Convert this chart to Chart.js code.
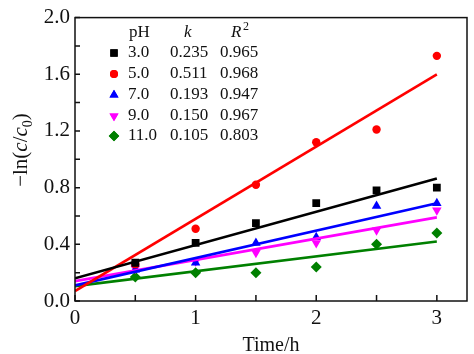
<!DOCTYPE html>
<html>
<head>
<meta charset="utf-8">
<script src="https://cdn.jsdelivr.net/npm/chart.js@4/dist/chart.umd.min.js"></script>
<style>
  html, body { margin: 0; padding: 0; background: #fff; }
  #wrap { width: 474px; height: 354px; }
</style>
</head>
<body>
<div id="wrap"><canvas id="kinChart" width="474" height="354"></canvas></div>
<script>
// Data
const times = [0.5, 1, 1.5, 2, 2.5, 3];
const phLabels = ['3.0', '5.0', '7.0', '9.0', '11.0'];
const kValues = ['0.235', '0.511', '0.193', '0.150', '0.105'];
const r2Values = ['0.965', '0.968', '0.947', '0.967', '0.803'];

const ph3 = [0.27, 0.41, 0.55, 0.69, 0.78, 0.80];
const ph5 = [0.26, 0.51, 0.82, 1.12, 1.21, 1.73];
const ph7 = [0.22, 0.27, 0.41, 0.45, 0.67, 0.69];
const ph9 = [0.23, 0.28, 0.34, 0.41, 0.50, 0.64];
const ph11 = [0.17, 0.20, 0.20, 0.24, 0.40, 0.48];

// fitted lines, value at t = 0 and t = 3
const fitX = [0, 3];
const fit3 = [0.16, 0.865];
const fit5 = [0.07, 1.60];
const fit7 = [0.11, 0.69];
const fit9 = [0.14, 0.59];
const fit11 = [0.105, 0.42];

const xTicks = [0, 0.5, 1, 1.5, 2, 2.5, 3];
const xTickLabels = ['0', '', '1', '', '2', '', '3'];
const yTicks = [0, 0.2, 0.4, 0.6, 0.8, 1.0, 1.2, 1.4, 1.6, 1.8, 2.0];
const yTickLabels = ['0.0', '', '0.4', '', '0.8', '', '1.2', '', '1.6', '', '2.0'];

const series = [
  { vals: ph3, fit: fit3, color: '#000000', style: 'rect', radius: 5.5, rot: 0 },
  { vals: ph5, fit: fit5, color: '#ff0000', style: 'circle', radius: 4.2, rot: 0 },
  { vals: ph7, fit: fit7, color: '#0000ff', style: 'triangle', radius: 5.5, rot: 0 },
  { vals: ph9, fit: fit9, color: '#ff00ff', style: 'triangle', radius: 5.5, rot: 180 },
  { vals: ph11, fit: fit11, color: '#008000', style: 'rectRot', radius: 5.5, rot: 0 }
];

const serif = '"Liberation Serif", "Times New Roman", serif';

function toPoints(xs, ys) {
  return xs.map((x, i) => ({ x: x, y: ys[i] }));
}

const datasets = [];
series.forEach(s => {
  datasets.push({
    type: 'line',
    data: toPoints(fitX, s.fit),
    borderColor: s.color,
    borderWidth: 2.6,
    pointRadius: 0,
    fill: false
  });
});
series.forEach(s => {
  datasets.push({
    type: 'scatter',
    data: toPoints(times, s.vals),
    backgroundColor: s.color,
    borderColor: s.color,
    borderWidth: 0,
    pointStyle: s.style,
    pointRadius: s.radius,
    pointRotation: s.rot
  });
});

function marker(ctx, s, x, y) {
  ctx.save();
  ctx.fillStyle = s.color;
  ctx.strokeStyle = s.color;
  ctx.lineWidth = 0;
  Chart.helpers.drawPoint(ctx, { pointStyle: s.style, radius: s.radius * 0.95, rotation: s.rot, borderWidth: 0 }, x, y);
  ctx.fill();
  ctx.restore();
}

// Frame, inward ticks, axis titles and the table legend
const decor = {
  id: 'decor',
  afterDatasetsDraw(chart) {
    const { ctx, chartArea: a, scales: { x, y } } = chart;
    ctx.save();
    ctx.strokeStyle = '#111';
    ctx.lineWidth = 1.5;
    ctx.strokeRect(a.left, a.top, a.right - a.left, a.bottom - a.top);
    ctx.beginPath();
    xTicks.forEach(v => {
      const px = x.getPixelForValue(v);
      ctx.moveTo(px, a.bottom);
      ctx.lineTo(px, a.bottom - 6);
    });
    yTicks.forEach(v => {
      const py = y.getPixelForValue(v);
      ctx.moveTo(a.left, py);
      ctx.lineTo(a.left + 5, py);
    });
    ctx.stroke();

    // x title
    ctx.fillStyle = '#111';
    ctx.font = '20px ' + serif;
    ctx.textAlign = 'center';
    ctx.textBaseline = 'alphabetic';
    ctx.fillText('Time/h', (a.left + a.right) / 2, 351);

    // y title: −ln(c/c0) rotated
    ctx.save();
    ctx.translate(27, 150);
    ctx.rotate(-Math.PI / 2);
    const parts = [
      { t: '\u2212ln(', f: '21px ' + serif, dy: 0 },
      { t: 'c', f: 'italic 21px ' + serif, dy: 0 },
      { t: '/', f: '21px ' + serif, dy: 0 },
      { t: 'c', f: 'italic 21px ' + serif, dy: 0 },
      { t: '0', f: '14px ' + serif, dy: 5 },
      { t: ')', f: '21px ' + serif, dy: 0 }
    ];
    let total = 0;
    parts.forEach(p => { ctx.font = p.f; total += ctx.measureText(p.t).width; });
    let cx = -total / 2;
    ctx.textAlign = 'left';
    parts.forEach(p => {
      ctx.font = p.f;
      ctx.fillText(p.t, cx, p.dy);
      cx += ctx.measureText(p.t).width;
    });
    ctx.restore();

    // legend table
    ctx.font = '17px ' + serif;
    ctx.textBaseline = 'middle';
    ctx.textAlign = 'left';
    ctx.fillText('pH', 129, 33);
    ctx.font = 'italic 17px ' + serif;
    ctx.fillText('k', 184, 33);
    ctx.fillText('R', 231, 33);
    ctx.font = '12px ' + serif;
    ctx.fillText('2', 243, 27);
    const rowY = [53, 74, 95, 116, 136];
    series.forEach((s, i) => {
      marker(ctx, s, 114, rowY[i]);
      ctx.fillStyle = '#111';
      ctx.font = '17px ' + serif;
      ctx.fillText(phLabels[i], 128, rowY[i]);
      ctx.fillText(kValues[i], 170, rowY[i]);
      ctx.fillText(r2Values[i], 220, rowY[i]);
    });
    ctx.restore();
  }
};

new Chart(document.getElementById('kinChart'), {
  data: { datasets: datasets },
  options: {
    responsive: false,
    animation: false,
    layout: { padding: { left: 0, right: 7, top: 15, bottom: 0 } },
    plugins: { legend: { display: false }, tooltip: { enabled: false } },
    scales: {
      x: {
        type: 'linear',
        min: 0,
        max: 3.25,
        afterBuildTicks: s => { s.ticks = xTicks.map(v => ({ value: v })); },
        afterFit: s => { s.height = 53; },
        grid: { display: false, drawTicks: false },
        border: { display: false },
        ticks: {
          padding: 5,
          color: '#111',
          font: { family: serif, size: 21 },
          maxRotation: 0,
          callback: (v, i) => xTickLabels[i]
        }
      },
      y: {
        type: 'linear',
        min: 0,
        max: 2,
        afterBuildTicks: s => { s.ticks = yTicks.map(v => ({ value: v })); },
        afterFit: s => { s.width = 75; },
        grid: { display: false, drawTicks: false },
        border: { display: false },
        ticks: {
          padding: 5,
          color: '#111',
          font: { family: serif, size: 21 },
          callback: (v, i) => yTickLabels[i]
        }
      }
    }
  },
  plugins: [decor]
});
</script>
</body>
</html>
